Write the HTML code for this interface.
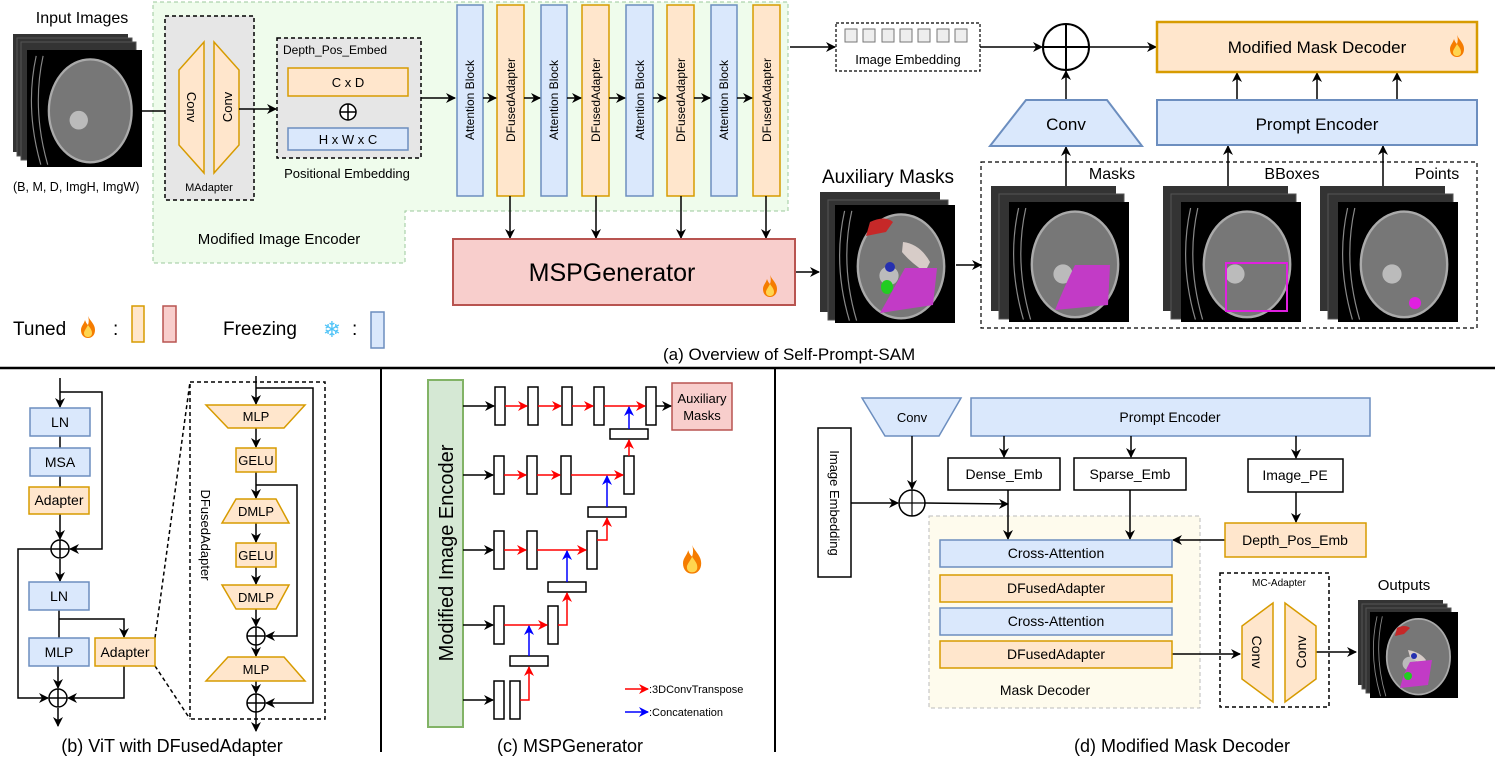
<!DOCTYPE html>
<html><head><meta charset="utf-8"><style>
body{margin:0;background:#fff}
svg{display:block;font-family:"Liberation Sans",Arial,sans-serif}
</style></head><body>
<svg width="1495" height="766" viewBox="0 0 1495 766" xmlns="http://www.w3.org/2000/svg">
<defs>
<marker id="a" markerWidth="10" markerHeight="10" refX="9" refY="5" orient="auto" markerUnits="userSpaceOnUse"><path d="M0,0 L10,5 L0,10 L3,5 z" fill="#000"/></marker>
<marker id="r" markerWidth="10" markerHeight="10" refX="9" refY="5" orient="auto" markerUnits="userSpaceOnUse"><path d="M0,0 L10,5 L0,10 L3,5 z" fill="#f00"/></marker>
<marker id="b" markerWidth="10" markerHeight="10" refX="9" refY="5" orient="auto" markerUnits="userSpaceOnUse"><path d="M0,0 L10,5 L0,10 L3,5 z" fill="#00f"/></marker>
<g id="fire"><path d="M7,0 C9,5 14,8 14,14 C14,19 11,22 7,22 C3,22 0,19 0,14 C0,10 3,8 4,4 C5,7 6,8 7,9 C8,6 8,3 7,0z" fill="#f57c00"/><path d="M7,9 C9,12 11,14 11,17 C11,20 9,21 7,21 C5,21 3,20 3,17 C3,15 5,13 7,9z" fill="#ffd54f"/></g>
<g id="ct"><rect x="0" y="0" width="100" height="100" fill="#000"/><ellipse cx="55" cy="52" rx="36" ry="44" fill="#777" stroke="#aaa" stroke-width="2"/><ellipse cx="45" cy="60" rx="8" ry="8" fill="#bbb"/><path d="M8,5 Q-2,50 12,98" stroke="#888" fill="none"/><path d="M14,5 Q4,50 18,98" stroke="#888" fill="none"/></g>
</defs>

<!-- ===== (a) ===== -->
<text x="82" y="23" font-size="16" text-anchor="middle">Input Images</text>
<rect x="13" y="34" width="115" height="118" fill="#333"/>
<rect x="17" y="38" width="115" height="118" fill="#333" stroke="#555"/>
<rect x="21" y="42" width="115" height="118" fill="#333" stroke="#555"/>
<use href="#ct" transform="translate(27,50) scale(1.15,1.17)"/>
<text x="13" y="191" font-size="12.5">(B, M, D, ImgH, ImgW)</text>

<path d="M153,2 H788 V211 H405 V263 H153 Z" fill="#effcec" stroke="#9bc99b" stroke-dasharray="4,3"/>
<text x="279" y="244" font-size="15" text-anchor="middle">Modified Image Encoder</text>

<line x1="142" y1="111" x2="165" y2="111" stroke="#000" stroke-width="1.5"/>
<rect x="165" y="16" width="89" height="184" fill="#e6e6e6" stroke="#000" stroke-dasharray="4,3" stroke-width="1.5"/>
<path d="M204,42 L179,70 L179,145 L204,173 Z" fill="#ffe6cc" stroke="#d79b00" stroke-width="1.5"/>
<path d="M214,42 L239,70 L239,145 L214,173 Z" fill="#ffe6cc" stroke="#d79b00" stroke-width="1.5"/>
<text transform="translate(187,107) rotate(90)" font-size="13" text-anchor="middle">Conv</text>
<text transform="translate(232,107) rotate(-90)" font-size="13" text-anchor="middle">Conv</text>
<text x="209" y="191" font-size="11" text-anchor="middle">MAdapter</text>
<line x1="239" y1="109" x2="276" y2="109" stroke="#000" stroke-width="1.5" marker-end="url(#a)"/>

<rect x="277" y="38" width="144" height="120" fill="#e6e6e6" stroke="#000" stroke-dasharray="4,3" stroke-width="1.5"/>
<text x="283" y="54" font-size="12">Depth_Pos_Embed</text>
<rect x="288" y="68" width="120" height="28" fill="#ffe6cc" stroke="#d79b00" stroke-width="1.5"/>
<text x="348" y="87" font-size="13" text-anchor="middle">C x D</text>
<circle cx="348" cy="112" r="8" fill="#fff" stroke="#000" stroke-width="1.5"/>
<path d="M340,112 H356 M348,104 V120" stroke="#000" stroke-width="1.5"/>
<rect x="288" y="128" width="120" height="22" fill="#dae8fc" stroke="#6c8ebf" stroke-width="1.5"/>
<text x="348" y="144" font-size="13" text-anchor="middle">H x W x C</text>
<text x="347" y="178" font-size="13" text-anchor="middle">Positional Embedding</text>
<line x1="421" y1="98" x2="455" y2="98" stroke="#000" stroke-width="1.5" marker-end="url(#a)"/>

<g stroke-width="1.5">
<rect x="457" y="5" width="26" height="191" fill="#dae8fc" stroke="#6c8ebf"/>
<rect x="497" y="5" width="27" height="191" fill="#ffe6cc" stroke="#d79b00"/>
<rect x="541" y="5" width="26" height="191" fill="#dae8fc" stroke="#6c8ebf"/>
<rect x="582" y="5" width="27" height="191" fill="#ffe6cc" stroke="#d79b00"/>
<rect x="626" y="5" width="27" height="191" fill="#dae8fc" stroke="#6c8ebf"/>
<rect x="667" y="5" width="27" height="191" fill="#ffe6cc" stroke="#d79b00"/>
<rect x="711" y="5" width="26" height="191" fill="#dae8fc" stroke="#6c8ebf"/>
<rect x="753" y="5" width="27" height="191" fill="#ffe6cc" stroke="#d79b00"/>
</g>
<g font-size="12" text-anchor="middle">
<text transform="translate(474,100) rotate(-90)">Attention Block</text>
<text transform="translate(515,100) rotate(-90)">DFusedAdapter</text>
<text transform="translate(558,100) rotate(-90)">Attention Block</text>
<text transform="translate(600,100) rotate(-90)">DFusedAdapter</text>
<text transform="translate(644,100) rotate(-90)">Attention Block</text>
<text transform="translate(685,100) rotate(-90)">DFusedAdapter</text>
<text transform="translate(728,100) rotate(-90)">Attention Block</text>
<text transform="translate(771,100) rotate(-90)">DFusedAdapter</text>
</g>
<g stroke="#000" stroke-width="1.5" marker-end="url(#a)">
<line x1="483" y1="98" x2="496" y2="98"/><line x1="524" y1="98" x2="540" y2="98"/>
<line x1="567" y1="98" x2="581" y2="98"/><line x1="609" y1="98" x2="625" y2="98"/>
<line x1="653" y1="98" x2="666" y2="98"/><line x1="694" y1="98" x2="710" y2="98"/>
<line x1="737" y1="98" x2="752" y2="98"/>
<line x1="510" y1="196" x2="510" y2="238"/><line x1="596" y1="196" x2="596" y2="238"/>
<line x1="681" y1="196" x2="681" y2="238"/><line x1="766" y1="196" x2="766" y2="238"/>
<line x1="790" y1="47" x2="835" y2="47"/>
<line x1="980" y1="47" x2="1042" y2="47"/>
<line x1="1089" y1="47" x2="1156" y2="47"/>
<line x1="1066" y1="100" x2="1066" y2="71"/>
<line x1="1237" y1="100" x2="1237" y2="73"/><line x1="1317" y1="100" x2="1317" y2="73"/><line x1="1397" y1="100" x2="1397" y2="73"/>
<line x1="1066" y1="186" x2="1066" y2="147"/><line x1="1228" y1="186" x2="1228" y2="146"/><line x1="1383" y1="186" x2="1383" y2="146"/>
<line x1="795" y1="272" x2="819" y2="272"/><line x1="956" y1="265" x2="981" y2="265"/>
</g>

<rect x="453" y="239" width="342" height="66" fill="#f8cecc" stroke="#b85450" stroke-width="2"/>
<text x="612" y="281" font-size="25" text-anchor="middle">MSPGenerator</text>
<use href="#fire" x="763" y="275"/>

<rect x="836" y="23" width="144" height="48" fill="#fff" stroke="#000" stroke-dasharray="3,2" stroke-width="1.2"/>
<g fill="#eee" stroke="#777"><rect x="845" y="29" width="12" height="13"/><rect x="863" y="29" width="12" height="13"/><rect x="882" y="29" width="12" height="13"/><rect x="900" y="29" width="12" height="13"/><rect x="918" y="29" width="12" height="13"/><rect x="937" y="29" width="12" height="13"/><rect x="955" y="29" width="12" height="13"/></g>
<text x="908" y="64" font-size="13" text-anchor="middle">Image Embedding</text>
<circle cx="1066" cy="47" r="23" fill="#fff" stroke="#000" stroke-width="2"/>
<path d="M1043,47 H1089 M1066,24 V70" stroke="#000" stroke-width="2"/>
<rect x="1157" y="22" width="320" height="50" fill="#ffe6cc" stroke="#d79b00" stroke-width="2.5"/>
<text x="1317" y="53" font-size="17" text-anchor="middle">Modified Mask Decoder</text>
<use href="#fire" x="1450" y="35"/>
<path d="M1026,100 L1107,100 L1142,146 L990,146 Z" fill="#dae8fc" stroke="#6c8ebf" stroke-width="2"/>
<text x="1066" y="130" font-size="17" text-anchor="middle">Conv</text>
<rect x="1157" y="100" width="320" height="45" fill="#dae8fc" stroke="#6c8ebf" stroke-width="2"/>
<text x="1317" y="130" font-size="17" text-anchor="middle">Prompt Encoder</text>

<text x="888" y="183" font-size="19" text-anchor="middle">Auxiliary Masks</text>
<rect x="820" y="192" width="120" height="120" fill="#333"/>
<rect x="828" y="200" width="120" height="120" fill="#333" stroke="#555"/>
<use href="#ct" transform="translate(835,205) scale(1.2,1.18)"/>
<path d="M870,222 Q885,215 893,222 L886,232 L866,236 Z" fill="#c62828"/>
<path d="M903,242 Q920,244 930,262 L925,272 Q910,262 902,252 Z" fill="#d7ccc8"/>
<circle cx="890" cy="267" r="5" fill="#2630b0"/>
<ellipse cx="887" cy="287" rx="6" ry="7" fill="#22cc22"/>
<path d="M905,268 L937,268 L933,305 L880,313 Q893,290 905,268 Z" fill="#c23bc6"/>

<rect x="981" y="162" width="496" height="166" fill="none" stroke="#000" stroke-dasharray="4,3" stroke-width="1.2"/>
<text x="1112" y="179" font-size="16" text-anchor="middle">Masks</text>
<text x="1292" y="179" font-size="16" text-anchor="middle">BBoxes</text>
<text x="1437" y="179" font-size="16" text-anchor="middle">Points</text>
<g>
<rect x="991" y="186" width="125" height="125" fill="#333"/><rect x="999" y="194" width="125" height="125" fill="#333" stroke="#555"/>
<use href="#ct" transform="translate(1009,202) scale(1.2,1.2)"/>
<path d="M1075,265 L1110,265 L1108,305 L1055,310 Q1065,285 1075,265Z" fill="#c23bc6"/>
<rect x="1163" y="186" width="125" height="125" fill="#333"/><rect x="1171" y="194" width="125" height="125" fill="#333" stroke="#555"/>
<use href="#ct" transform="translate(1181,202) scale(1.2,1.2)"/>
<rect x="1226" y="263" width="61" height="48" fill="none" stroke="#e020e0" stroke-width="2"/>
<rect x="1320" y="186" width="125" height="125" fill="#333"/><rect x="1328" y="194" width="125" height="125" fill="#333" stroke="#555"/>
<use href="#ct" transform="translate(1338,202) scale(1.2,1.2)"/>
<circle cx="1415" cy="303" r="6" fill="#e020e0"/>
</g>

<text x="13" y="335" font-size="19">Tuned</text>
<use href="#fire" x="81" y="316"/>
<text x="113" y="335" font-size="19">:</text>
<rect x="132" y="306" width="12" height="36" fill="#ffe6cc" stroke="#d79b00" stroke-width="1.5"/>
<rect x="163" y="306" width="13" height="36" fill="#f8cecc" stroke="#b85450" stroke-width="1.5"/>
<text x="223" y="335" font-size="19">Freezing</text>
<text x="332" y="337" font-size="22" fill="#4fc3f7" text-anchor="middle" font-family="DejaVu Sans">❄</text>
<text x="352" y="335" font-size="19">:</text>
<rect x="371" y="312" width="13" height="36" fill="#dae8fc" stroke="#6c8ebf" stroke-width="1.5"/>
<text x="663" y="360" font-size="17">(a) Overview of Self-Prompt-SAM</text>

<line x1="0" y1="368" x2="1495" y2="368" stroke="#000" stroke-width="2.5"/>
<line x1="381" y1="369" x2="381" y2="752" stroke="#000" stroke-width="2"/>
<line x1="775" y1="369" x2="775" y2="752" stroke="#000" stroke-width="2"/>

<!-- ===== (b) ===== -->
<g stroke="#000" stroke-width="1.5" fill="none">
<line x1="60" y1="378" x2="60" y2="407" marker-end="url(#a)"/>
<polyline points="60,392 102,392 102,549 70,549" marker-end="url(#a)"/>
<line x1="60" y1="436" x2="60" y2="448"/><line x1="60" y1="476" x2="60" y2="487"/>
<line x1="60" y1="514" x2="60" y2="539" marker-end="url(#a)"/>
<line x1="60" y1="559" x2="60" y2="581" marker-end="url(#a)"/>
<polyline points="60,549 18,549 18,698 48,698" marker-end="url(#a)"/>
<line x1="59" y1="610" x2="59" y2="638"/>
<polyline points="59,619 124,619 124,637" marker-end="url(#a)"/>
<line x1="58" y1="666" x2="58" y2="688" marker-end="url(#a)"/>
<polyline points="124,666 124,698 68,698" marker-end="url(#a)"/>
<line x1="58" y1="708" x2="58" y2="726" marker-end="url(#a)"/>
<line x1="155" y1="638" x2="190" y2="382" stroke-dasharray="4,3"/>
<line x1="155" y1="666" x2="190" y2="719" stroke-dasharray="4,3"/>
</g>
<g stroke-width="1.5">
<rect x="30" y="408" width="60" height="28" fill="#dae8fc" stroke="#6c8ebf"/>
<rect x="30" y="448" width="60" height="28" fill="#dae8fc" stroke="#6c8ebf"/>
<rect x="29" y="487" width="60" height="27" fill="#ffe6cc" stroke="#d79b00"/>
<rect x="29" y="582" width="60" height="28" fill="#dae8fc" stroke="#6c8ebf"/>
<rect x="29" y="638" width="60" height="28" fill="#dae8fc" stroke="#6c8ebf"/>
<rect x="95" y="638" width="60" height="28" fill="#ffe6cc" stroke="#d79b00"/>
</g>
<g font-size="14" text-anchor="middle">
<text x="60" y="427">LN</text><text x="60" y="467">MSA</text><text x="59" y="505">Adapter</text>
<text x="59" y="601">LN</text><text x="59" y="657">MLP</text><text x="125" y="657">Adapter</text>
</g>
<g fill="#fff" stroke="#000" stroke-width="1.5">
<circle cx="60" cy="549" r="9"/><circle cx="58" cy="698" r="9"/>
</g>
<path d="M51,549 H69 M60,540 V558 M49,698 H67 M58,689 V707" stroke="#000" stroke-width="1.5"/>

<rect x="190" y="382" width="135" height="337" fill="none" stroke="#000" stroke-dasharray="4,3" stroke-width="1.5"/>
<g stroke="#000" stroke-width="1.5" fill="none">
<line x1="256" y1="376" x2="256" y2="404" marker-end="url(#a)"/>
<polyline points="256,388 313,388 313,703 266,703" marker-end="url(#a)"/>
<line x1="256" y1="428" x2="256" y2="447" marker-end="url(#a)"/>
<line x1="256" y1="472" x2="256" y2="498" marker-end="url(#a)"/>
<polyline points="256,485 297,485 297,636 266,636" marker-end="url(#a)"/>
<line x1="256" y1="523" x2="256" y2="542" marker-end="url(#a)"/>
<line x1="256" y1="567" x2="256" y2="584" marker-end="url(#a)"/>
<line x1="256" y1="609" x2="256" y2="626" marker-end="url(#a)"/>
<line x1="256" y1="645" x2="256" y2="656" marker-end="url(#a)"/>
<line x1="256" y1="681" x2="256" y2="693" marker-end="url(#a)"/>
<line x1="256" y1="712" x2="256" y2="731" marker-end="url(#a)"/>
</g>
<g fill="#ffe6cc" stroke="#d79b00" stroke-width="1.5">
<path d="M206,405 H305 L284,428 H228 Z"/>
<rect x="236" y="448" width="40" height="24"/>
<path d="M236,499 H276 L289,523 H222 Z"/>
<rect x="236" y="543" width="40" height="24"/>
<path d="M222,585 H289 L276,609 H236 Z"/>
<path d="M228,657 H284 L305,681 H206 Z"/>
</g>
<g font-size="13" text-anchor="middle">
<text x="256" y="421">MLP</text><text x="256" y="465">GELU</text><text x="256" y="516">DMLP</text>
<text x="256" y="560">GELU</text><text x="256" y="602">DMLP</text><text x="256" y="674">MLP</text>
</g>
<g fill="#fff" stroke="#000" stroke-width="1.5"><circle cx="256" cy="636" r="9"/><circle cx="256" cy="703" r="9"/></g>
<path d="M247,636 H265 M256,627 V645 M247,703 H265 M256,694 V712" stroke="#000" stroke-width="1.5"/>
<text transform="translate(201,535) rotate(90)" font-size="13" text-anchor="middle">DFusedAdapter</text>
<text x="172" y="752" font-size="18" text-anchor="middle">(b) ViT with DFusedAdapter</text>

<!-- ===== (c) ===== -->
<rect x="428" y="380" width="35" height="347" fill="#d5e8d4" stroke="#82b366" stroke-width="2"/>
<text transform="translate(453,553) rotate(-90)" font-size="20" text-anchor="middle">Modified Image Encoder</text>
<g fill="#fff" stroke="#000" stroke-width="1.5">
<rect x="495" y="387" width="10" height="38"/><rect x="528" y="387" width="10" height="38"/><rect x="562" y="387" width="10" height="38"/><rect x="594" y="387" width="10" height="38"/><rect x="646" y="387" width="10" height="38"/>
<rect x="494" y="456" width="10" height="38"/><rect x="527" y="456" width="10" height="38"/><rect x="561" y="456" width="10" height="38"/><rect x="624" y="456" width="10" height="38"/>
<rect x="494" y="531" width="10" height="38"/><rect x="527" y="531" width="10" height="38"/><rect x="587" y="531" width="10" height="38"/>
<rect x="494" y="606" width="10" height="38"/><rect x="548" y="606" width="10" height="38"/>
<rect x="494" y="681" width="10" height="38"/><rect x="510" y="681" width="10" height="38"/>
<rect x="610" y="429" width="38" height="10"/><rect x="588" y="507" width="38" height="10"/><rect x="548" y="582" width="38" height="10"/><rect x="510" y="656" width="38" height="10"/>
</g>
<rect x="672" y="383" width="60" height="47" fill="#f8cecc" stroke="#b85450" stroke-width="1.5"/>
<text x="702" y="403" font-size="13" text-anchor="middle">Auxiliary</text>
<text x="702" y="420" font-size="13" text-anchor="middle">Masks</text>
<g stroke="#000" stroke-width="1.5" marker-end="url(#a)">
<line x1="463" y1="406" x2="494" y2="406"/><line x1="463" y1="475" x2="493" y2="475"/><line x1="463" y1="550" x2="493" y2="550"/><line x1="463" y1="625" x2="493" y2="625"/><line x1="463" y1="700" x2="493" y2="700"/><line x1="656" y1="406" x2="671" y2="406"/>
</g>
<g stroke="#f00" stroke-width="1.5" fill="none" marker-end="url(#r)">
<line x1="505" y1="406" x2="527" y2="406"/><line x1="538" y1="406" x2="561" y2="406"/><line x1="572" y1="406" x2="593" y2="406"/><line x1="604" y1="406" x2="645" y2="406"/>
<line x1="504" y1="475" x2="526" y2="475"/><line x1="537" y1="475" x2="560" y2="475"/><line x1="571" y1="475" x2="623" y2="475"/>
<line x1="504" y1="550" x2="526" y2="550"/><line x1="537" y1="550" x2="586" y2="550"/>
<line x1="504" y1="625" x2="547" y2="625"/>
<line x1="629" y1="456" x2="629" y2="440"/>
<polyline points="597,540 607,540 607,518"/>
<polyline points="558,625 567,625 567,593"/>
<polyline points="520,700 529,700 529,667"/>
<line x1="625" y1="689" x2="648" y2="689"/>
</g>
<g stroke="#00f" stroke-width="1.5" marker-end="url(#b)">
<line x1="629" y1="429" x2="629" y2="407"/><line x1="607" y1="507" x2="607" y2="476"/><line x1="567" y1="582" x2="567" y2="551"/><line x1="529" y1="656" x2="529" y2="626"/>
<line x1="625" y1="712" x2="648" y2="712"/>
</g>
<use href="#fire" transform="translate(683,545) scale(1.3)"/>
<text x="649" y="693" font-size="11">:3DConvTranspose</text>
<text x="649" y="716" font-size="11">:Concatenation</text>
<text x="570" y="752" font-size="18" text-anchor="middle">(c) MSPGenerator</text>

<!-- ===== (d) ===== -->
<rect x="929" y="516" width="271" height="192" fill="#fefbed" stroke="#bbb" stroke-dasharray="4,3"/>
<path d="M862,398 H961 L939,436 H885 Z" fill="#dae8fc" stroke="#6c8ebf" stroke-width="1.5"/>
<text x="912" y="422" font-size="13" text-anchor="middle">Conv</text>
<rect x="971" y="398" width="399" height="38" fill="#dae8fc" stroke="#6c8ebf" stroke-width="1.5"/>
<text x="1170" y="422" font-size="14" text-anchor="middle">Prompt Encoder</text>
<rect x="818" y="428" width="33" height="149" fill="#fff" stroke="#000" stroke-width="1.5"/>
<text transform="translate(830,503) rotate(90)" font-size="13" text-anchor="middle">Image Embedding</text>
<g stroke="#000" stroke-width="1.5" fill="none" marker-end="url(#a)">
<line x1="912" y1="436" x2="912" y2="489"/>
<line x1="851" y1="503" x2="898" y2="503"/>
<line x1="925" y1="503" x2="1008" y2="504"/>
<line x1="1004" y1="436" x2="1004" y2="457"/><line x1="1131" y1="436" x2="1131" y2="457"/><line x1="1296" y1="436" x2="1296" y2="458"/>
<line x1="1008" y1="490" x2="1008" y2="539"/><line x1="1130" y1="490" x2="1130" y2="539"/>
<line x1="1296" y1="492" x2="1296" y2="522"/>
<line x1="1225" y1="540" x2="1173" y2="540"/>
<line x1="1172" y1="654" x2="1240" y2="654"/>
<line x1="1316" y1="652" x2="1356" y2="652"/>
</g>
<circle cx="912" cy="503" r="13" fill="none" stroke="#000" stroke-width="1.5"/>
<path d="M899,503 H925 M912,490 V516" stroke="#000" stroke-width="1.2"/>
<g fill="#fff" stroke="#000" stroke-width="1.5">
<rect x="948" y="458" width="112" height="32"/><rect x="1074" y="458" width="112" height="32"/><rect x="1248" y="459" width="95" height="33"/>
</g>
<g font-size="14" text-anchor="middle">
<text x="1004" y="479">Dense_Emb</text><text x="1130" y="479">Sparse_Emb</text><text x="1295" y="480">Image_PE</text>
</g>
<rect x="1225" y="523" width="141" height="34" fill="#ffe6cc" stroke="#d79b00" stroke-width="1.5"/>
<text x="1295" y="545" font-size="14" text-anchor="middle">Depth_Pos_Emb</text>
<g stroke-width="1.5">
<rect x="940" y="540" width="232" height="27" fill="#dae8fc" stroke="#6c8ebf"/>
<rect x="940" y="575" width="232" height="27" fill="#ffe6cc" stroke="#d79b00"/>
<rect x="940" y="608" width="232" height="27" fill="#dae8fc" stroke="#6c8ebf"/>
<rect x="940" y="641" width="232" height="27" fill="#ffe6cc" stroke="#d79b00"/>
</g>
<g font-size="14" text-anchor="middle">
<text x="1056" y="558">Cross-Attention</text><text x="1056" y="593">DFusedAdapter</text>
<text x="1056" y="626">Cross-Attention</text><text x="1056" y="659">DFusedAdapter</text>
<text x="1045" y="695">Mask Decoder</text>
</g>
<rect x="1220" y="573" width="109" height="134" fill="none" stroke="#000" stroke-dasharray="4,3" stroke-width="1.5"/>
<text x="1279" y="586" font-size="10" text-anchor="middle">MC-Adapter</text>
<path d="M1273,603 L1242,626 L1242,679 L1273,702 Z" fill="#ffe6cc" stroke="#d79b00" stroke-width="1.5"/>
<path d="M1285,603 L1316,626 L1316,679 L1285,702 Z" fill="#ffe6cc" stroke="#d79b00" stroke-width="1.5"/>
<text transform="translate(1252,652) rotate(90)" font-size="14" text-anchor="middle">Conv</text>
<text transform="translate(1306,652) rotate(-90)" font-size="14" text-anchor="middle">Conv</text>
<text x="1404" y="590" font-size="15" text-anchor="middle">Outputs</text>
<rect x="1358" y="600" width="85" height="85" fill="#333"/>
<rect x="1362" y="604" width="85" height="85" fill="#333" stroke="#555"/>
<rect x="1366" y="608" width="85" height="85" fill="#333" stroke="#555"/>
<use href="#ct" transform="translate(1370,612) scale(0.88,0.86)"/>
<path d="M1397,628 Q1405,624 1410,628 L1404,634 L1395,636Z" fill="#c62828"/>
<path d="M1408,650 Q1420,652 1426,660 L1422,665 L1410,657Z" fill="#d7ccc8"/>
<path d="M1410,662 L1432,660 L1428,685 L1400,688 Q1404,672 1410,662Z" fill="#c23bc6"/>
<circle cx="1408" cy="676" r="4" fill="#22cc22"/><circle cx="1414" cy="656" r="3" fill="#2630b0"/>
<text x="1182" y="752" font-size="18" text-anchor="middle">(d) Modified Mask Decoder</text>
</svg>
</body></html>
